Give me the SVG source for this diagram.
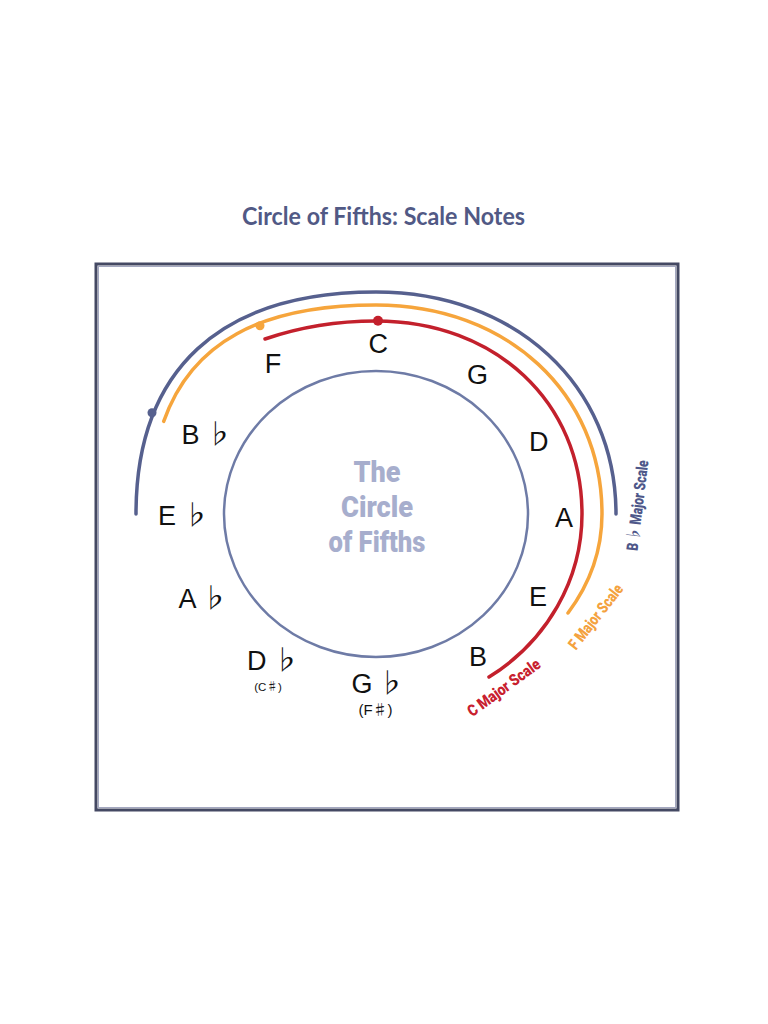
<svg xmlns="http://www.w3.org/2000/svg" width="768" height="1024" viewBox="0 0 768 1024">
<style>
.note{font-family:"Liberation Sans","Noto Sans CJK JP",sans-serif;font-size:27px;fill:#111;}
.fl{font-family:"Noto Sans CJK JP","DejaVu Sans",sans-serif;}
.sub{font-family:"Liberation Sans","Noto Sans CJK JP",sans-serif;fill:#111;}
.arc{fill:none;stroke-width:3.5;stroke-linecap:round;}
.ctr{font-family:"Roboto","Liberation Sans",sans-serif;font-weight:900;font-size:29px;fill:#a7aecd;text-anchor:middle;}
.lab{font-family:"Roboto","Liberation Sans",sans-serif;font-weight:900;font-size:16px;text-anchor:middle;}
</style>
<rect width="768" height="1024" fill="#fff"/>
<text id="title" x="383.5" y="225" font-family="Lato,'Open Sans',sans-serif" font-weight="700" font-size="24" fill="#515985" text-anchor="middle" textLength="283" lengthAdjust="spacingAndGlyphs">Circle of Fifths: Scale Notes</text>
<rect id="frame" x="96" y="264" width="582" height="546" fill="#fff" stroke="#444963" stroke-width="3"/>
<rect x="98.5" y="266.5" width="577" height="541" fill="none" stroke="#a4a8c0" stroke-width="1"/>

<g id="inner-circle">
<ellipse cx="376" cy="514" rx="152" ry="143" fill="none" stroke="#6e7ba6" stroke-width="2.5"/>
<text class="ctr" x="377" y="482" textLength="47" lengthAdjust="spacingAndGlyphs">The</text>
<text class="ctr" x="377" y="517" textLength="72" lengthAdjust="spacingAndGlyphs">Circle</text>
<text class="ctr" x="377" y="552" textLength="97" lengthAdjust="spacingAndGlyphs">of Fifths</text>
</g>

<g id="connectors">
<path id="bb-arc" class="arc" stroke="#56608e" d="M136,514 C136,369.7 220,292 376,292 C515.2,292 616,385.2 616,514"/>
<circle cx="152" cy="412.7" r="4.5" fill="#56608e"/>
<path id="f-arc" class="arc" stroke="#f6a53c" d="M163.7,421.4 C191.3,342.65 260.7,305 376,305 C507,305 602,393 602,514 A226,188 0 0 1 568,613"/>
<circle cx="260" cy="325.7" r="4.5" fill="#f6a53c"/>
<path id="c-arc" class="arc" stroke="#c3202c" d="M265,339 C300,327 340,321 376,321 C495.5,321 582,402 582,514 A206,195 0 0 1 489,677"/>
<circle cx="378" cy="320.7" r="5" fill="#c3202c"/>
</g>

<g id="scale-labels">
<text class="lab" fill="#c8202e" transform="translate(507,692) rotate(-36)" textLength="86" lengthAdjust="spacingAndGlyphs">C Major Scale</text>
<text class="lab" fill="#f4a23f" transform="translate(600,620) rotate(-52)" textLength="78" lengthAdjust="spacingAndGlyphs">F Major Scale</text>
<text class="lab" fill="#4e5789" transform="translate(643,506) rotate(-83)" textLength="91" lengthAdjust="spacingAndGlyphs">B <tspan class="fl">♭</tspan> Major Scale</text>
</g>

<g id="note-C"><text class="note" x="378.3" y="353" text-anchor="middle">C</text></g>
<g id="note-G"><text class="note" x="477.5" y="383.5" text-anchor="middle">G</text></g>
<g id="note-D"><text class="note" x="538.7" y="450.7" text-anchor="middle">D</text></g>
<g id="note-A"><text class="note" x="564" y="527" text-anchor="middle">A</text></g>
<g id="note-E"><text class="note" x="538" y="606" text-anchor="middle">E</text></g>
<g id="note-B"><text class="note" x="478" y="666" text-anchor="middle">B</text></g>
<g id="note-F"><text class="note" x="273" y="373" text-anchor="middle">F</text></g>

<g id="note-Bb"><text class="note" font-size="25" x="181.5" y="444">B <tspan class="fl" dx="-1.6">♭</tspan></text></g>
<g id="note-Eb"><text class="note" font-size="25" x="158" y="525">E <tspan class="fl" dx="-1">♭</tspan></text></g>
<g id="note-Ab"><text class="note" font-size="25" x="178.5" y="608">A <tspan class="fl" dx="-1.5">♭</tspan></text></g>
<g id="note-Db"><text class="note" x="247" y="670">D <tspan class="fl" dx="-1.5">♭</tspan></text>
<text class="sub" x="268" y="691" font-size="11.5" text-anchor="middle">(C<tspan class="fl">♯</tspan>)</text></g>
<g id="note-Gb"><text class="note" x="351.5" y="693">G <tspan class="fl" dx="-2.5">♭</tspan></text>
<text class="sub" x="375.5" y="715" font-size="15" text-anchor="middle">(F<tspan class="fl">♯</tspan>)</text></g>
</svg>
